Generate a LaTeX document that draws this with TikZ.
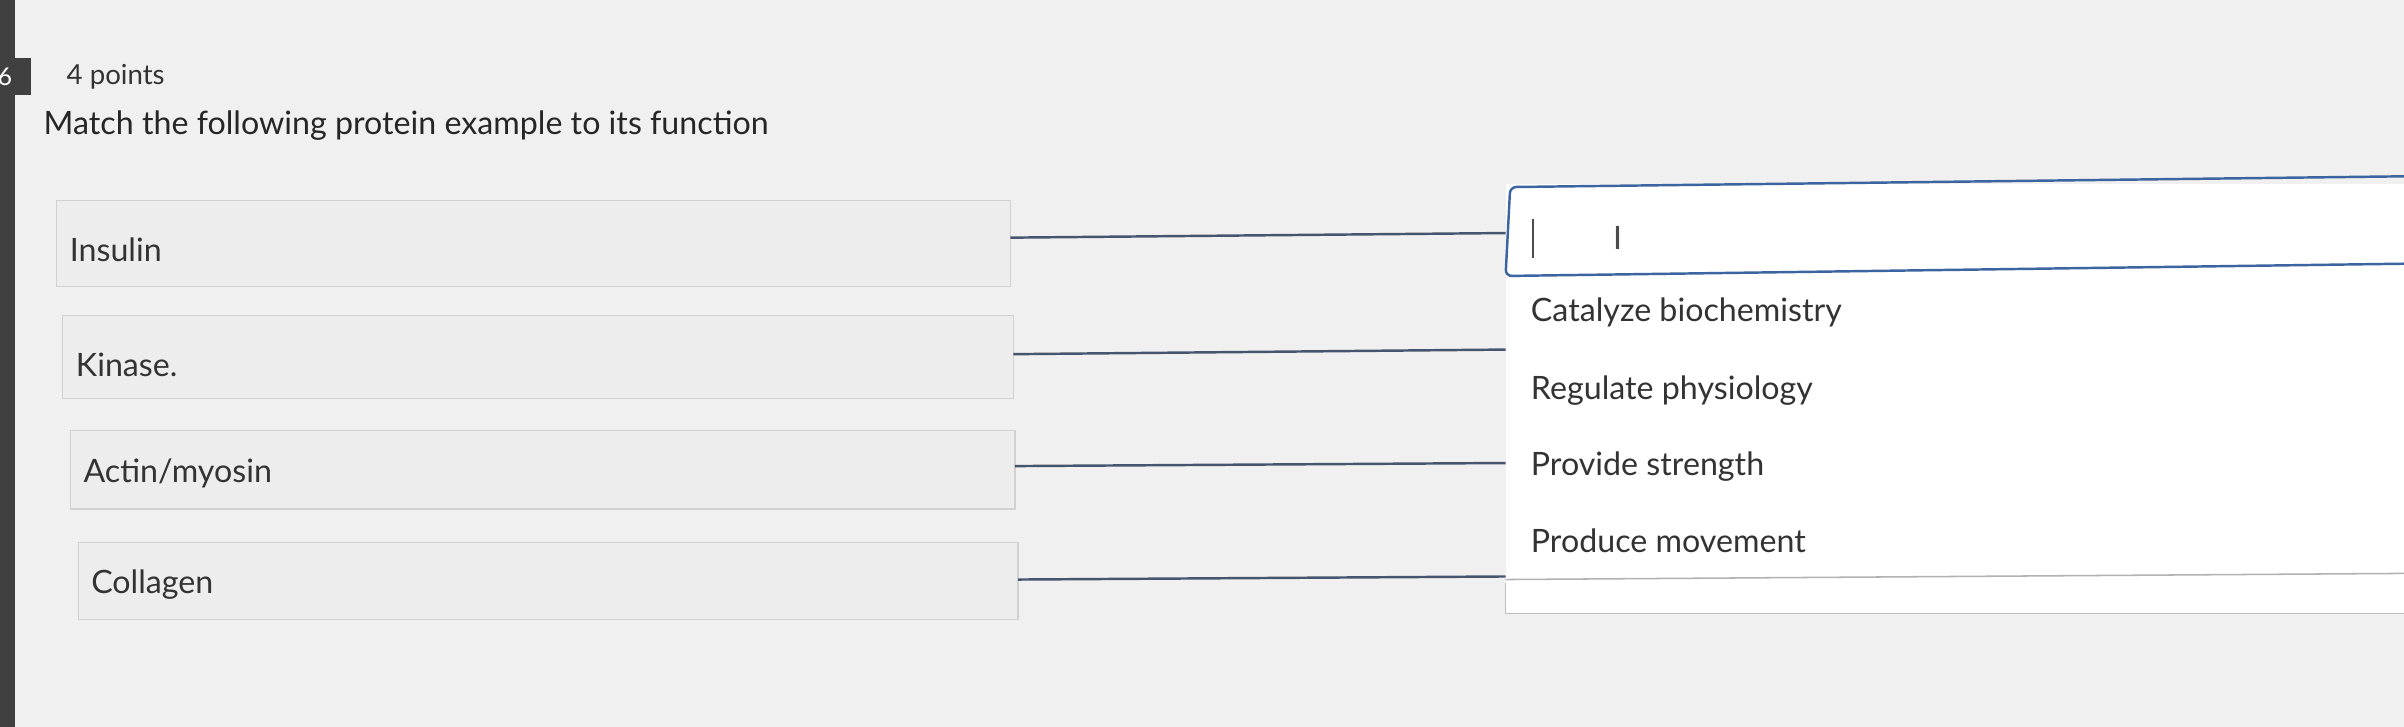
\documentclass[tikz,border=0pt]{standalone}
\usepackage{fontspec}
\setmainfont{Lato}
\definecolor{connc}{RGB}{70,85,110}
\definecolor{selc}{RGB}{60,100,160}
\begin{document}
\begin{tikzpicture}[x=1pt,y=-1pt,
  lbox/.style={draw=black!18,fill=black!7,line width=0.8pt},
  lbl/.style={anchor=west,font=\fontsize{21}{23}\selectfont,text=black!80},
  conn/.style={draw=connc,line width=1.6pt},
  item/.style={anchor=west,font=\fontsize{21}{23}\selectfont,text=black!80}]
\useasboundingbox (0,0) rectangle (1568,474);
\fill[black!6] (0,0) rectangle (1568,474);
\fill[black!75] (0,0) rectangle (10,474);
\fill[black!75] (0,38) rectangle (20,62);
\node[text=white,anchor=west,font=\fontsize{16}{18}\selectfont] (num) at (-5,50) {6};
\node[anchor=west,font=\fontsize{18}{20}\selectfont,text=black!80] (pts) at (40,50) {4 points};
\node[anchor=west,font=\fontsize{21}{23}\selectfont,text=black!85] (q) at (25,82) {Match the following protein example to its function};
% left boxes
\draw[lbox] (37,131) rectangle (659,187); \node[lbl] (a) at (42,163) {Insulin};
\draw[lbox] (41,206) rectangle (661,260); \node[lbl] (b) at (46,238) {Kinase.};
\draw[lbox] (46,281) rectangle (662,332); \node[lbl] (c) at (51,309) {Actin/myosin};
\draw[lbox] (51,354) rectangle (664,404); \node[lbl] (d) at (56,381) {Collagen};
\coordinate (a1) at (659,155); \coordinate (a2) at (982,152);
\coordinate (b1) at (661,231); \coordinate (b2) at (982,228);
\coordinate (c1) at (662,304); \coordinate (c2) at (982,302);
\coordinate (d1) at (664,378); \coordinate (d2) at (982,376);
\draw[conn] (a1) -- (a2); \draw[conn] (b1) -- (b2);
\draw[conn] (c1) -- (c2); \draw[conn] (d1) -- (d2);
% dropdown
\fill[white] (982,120) rectangle (1568,400);
\draw[black!25,line width=0.8pt] (982,380) -- (982,400) -- (1568,400);
\draw[black!30,line width=1pt] (982,378) -- (1568,374);
\draw[selc,line width=1.6pt,rounded corners=4pt] (1568,115) -- (985,122) -- (982,180) -- (1568,172);
\draw[black!70,line width=1pt] (1000,143) -- (1000,168);
\node[font=\fontsize{21}{23}\selectfont,text=black!70] (cur) at (1055,155) {I};
\node[item] (i1) at (995,204) {Catalyze biochemistry};
\node[item] (i2) at (995,255) {Regulate physiology};
\node[item] (i3) at (995,304) {Provide strength};
\node[item] (i4) at (995,353) {Produce movement};
\end{tikzpicture}
\end{document}
